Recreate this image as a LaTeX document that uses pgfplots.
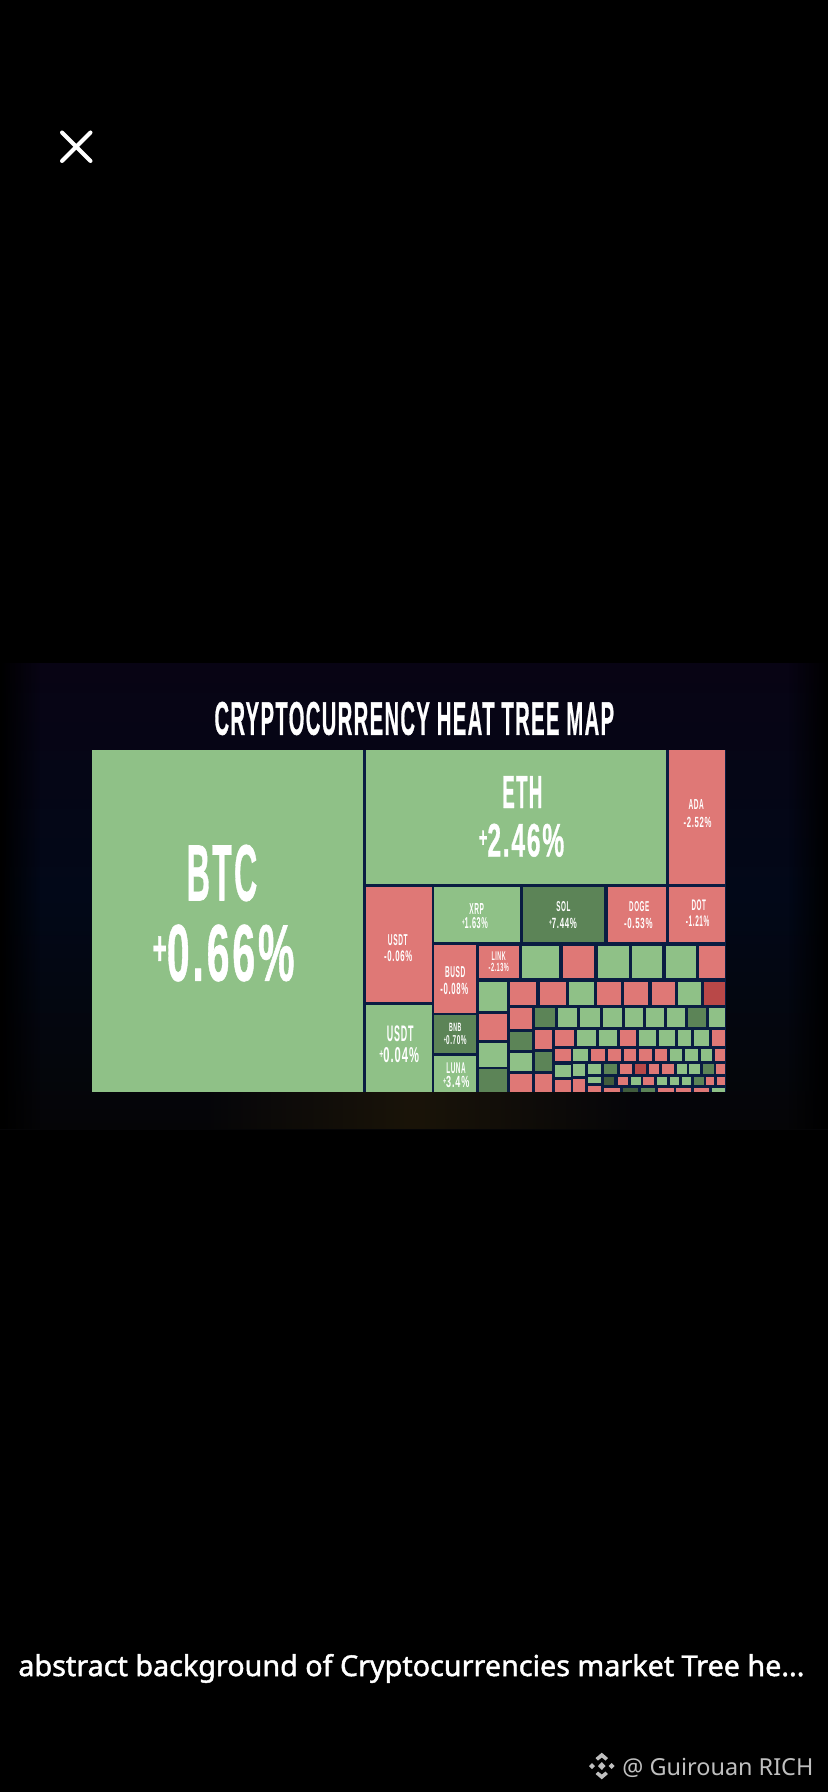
\documentclass[border=0pt]{standalone}
\usepackage{fontspec}
\usepackage{graphicx}
\usepackage{pgfplots}
\pgfplotsset{compat=1.18}
\usetikzlibrary{fadings}
\setmainfont{Liberation Sans}
\newfontfamily\condfont[FakeBold=1,LetterSpace=7]{Liberation Sans Bold}
\newfontfamily\smfont[LetterSpace=9]{Liberation Sans Bold}
\newfontfamily\capfont[FakeBold=1.6]{Noto Sans}
\newfontfamily\markfont{Noto Sans}
\definecolor{gr}{HTML}{8FC187}
\definecolor{rd}{HTML}{DF7876}
\definecolor{dg}{HTML}{5C8457}
\definecolor{dr}{HTML}{B94848}
\definecolor{nv}{HTML}{0A1D42}
\definecolor{ptop}{HTML}{080414}
\definecolor{pmid}{HTML}{020818}
\definecolor{pbot}{HTML}{050507}
\definecolor{warm}{HTML}{1A1409}
\newlength{\pxu}\setlength{\pxu}{0.5pt}
\newcommand\pl{\raisebox{.2em}{\scalebox{.6}{+}}}
% tile: colour, x0, x1, y0, y1 (picture pixels)
\newcommand\tile[5]{\addplot[fill=#1,draw=none,forget plot] coordinates {(#2,#4)(#3,#4)(#3,#5)(#2,#5)} --cycle;}
% label: centre x, centre y, width, height, text
\newcommand\lbl[5]{\node[inner sep=0pt,text=white] at (axis cs:#1,#2) {\resizebox{#3\pxu}{#4\pxu}{\condfont #5}};}
\newcommand\sml[5]{\node[inner sep=0pt,text=white] at (axis cs:#1,#2) {\resizebox{#3\pxu}{#4\pxu}{\smfont #5}};}
\begin{document}
\begin{tikzpicture}
\begin{axis}[scale only axis,width=414pt,height=896pt,xmin=0,xmax=828,ymin=0,ymax=1792,y dir=reverse,hide axis,clip=false]
% page and panel
\tile{black}{0}{828}{0}{1792}
\path[top color=ptop,bottom color=pbot,middle color=pmid] (axis cs:0,663) rectangle (axis cs:828,1129);
\fill[warm,path fading=west] (axis cs:200,1092) rectangle (axis cs:414,1129);
\fill[warm,path fading=east] (axis cs:414,1092) rectangle (axis cs:640,1129);
\fill[black,path fading=east] (axis cs:0,663) rectangle (axis cs:40,1129);
\fill[black,path fading=west] (axis cs:788,663) rectangle (axis cs:828,1129);
% close icon
\draw[white,line width=2pt,line cap=round] (axis cs:62,132.5) -- (axis cs:90.5,161);
\draw[white,line width=2pt,line cap=round] (axis cs:90.5,132.5) -- (axis cs:62,161);
% title
\lbl{414.3}{718.5}{399.5}{33}{CRYPTOCURRENCY HEAT TREE MAP}
% map ground
\tile{nv}{363}{725.5}{750}{1091.7}
% large tiles
\tile{gr}{91.7}{363.3}{750}{1091.5}
\tile{gr}{366}{666}{750}{884}
\tile{rd}{669}{725.3}{750}{884}
\tile{rd}{366}{431.7}{887.3}{1001.7}
\tile{gr}{366}{431.7}{1004.7}{1091.5}
\tile{gr}{434}{520}{887.3}{942.3}
\tile{dg}{523.3}{604.3}{887.3}{942.3}
\tile{rd}{607.7}{666}{887.3}{942.3}
\tile{rd}{669}{725.3}{887.3}{942.3}
\tile{rd}{434}{476}{945.3}{1012.7}
\tile{dg}{434}{476}{1015.3}{1053.3}
\tile{gr}{434}{476}{1056}{1091.5}
% row 1
\tile{rd}{479.3}{519}{945.7}{978.3}
\tile{gr}{522}{559.3}{945.7}{978.3}
\tile{rd}{562.7}{594.3}{945.7}{978.3}
\tile{gr}{598}{628.7}{945.7}{978.3}
\tile{gr}{632}{662.3}{945.7}{978.3}
\tile{gr}{665.7}{695.7}{945.7}{978.3}
\tile{rd}{699}{725.3}{945.7}{978.3}
% narrow column
\tile{gr}{479.3}{506.7}{981.7}{1011.3}
\tile{rd}{479.3}{506.7}{1014.3}{1040}
\tile{gr}{479.3}{506.7}{1043.3}{1066.7}
\tile{dg}{479.3}{506.7}{1069.3}{1091.5}
% row 2
\tile{rd}{510}{536.3}{981.7}{1004.7}
\tile{rd}{539.7}{566}{981.7}{1004.7}
\tile{gr}{569.3}{593.7}{981.7}{1004.7}
\tile{rd}{596.7}{621}{981.7}{1004.7}
\tile{rd}{624}{648.3}{981.7}{1004.7}
\tile{rd}{651.7}{674.7}{981.7}{1004.7}
\tile{gr}{678}{701}{981.7}{1004.7}
\tile{dr}{704.3}{725.3}{981.7}{1004.7}
% row 3
\tile{rd}{510}{532.3}{1008}{1029}
\tile{dg}{535}{555.3}{1008}{1026.7}
\tile{gr}{558.3}{577.3}{1008}{1026.7}
\tile{gr}{580.3}{600}{1008}{1026.7}
\tile{gr}{603.3}{622}{1008}{1026.7}
\tile{gr}{625}{643}{1008}{1026.7}
\tile{gr}{646}{664}{1008}{1026.7}
\tile{gr}{666.7}{684.7}{1008}{1026.7}
\tile{dg}{688}{705.7}{1008}{1026.7}
\tile{gr}{708.7}{725.3}{1008}{1026.7}
% two short columns
\tile{dg}{510}{532.3}{1032}{1050}
\tile{gr}{510}{532.3}{1053}{1070.7}
\tile{rd}{510}{532.3}{1073.7}{1091.5}
\tile{rd}{535}{552}{1030}{1048.7}
\tile{dg}{535}{552}{1051.7}{1070.7}
\tile{rd}{535}{552}{1073.7}{1091.5}
% row 4
\tile{rd}{555}{574}{1030}{1045.7}
\tile{gr}{576.7}{596}{1030}{1045.7}
\tile{gr}{599}{616.7}{1030}{1045.7}
\tile{rd}{619.7}{636.3}{1030}{1045.7}
\tile{gr}{639.3}{656}{1030}{1045.7}
\tile{gr}{659.3}{675}{1030}{1045.7}
\tile{gr}{677.7}{691.3}{1030}{1045.7}
\tile{gr}{694}{709}{1030}{1045.7}
\tile{rd}{711.7}{725.3}{1030}{1045.7}
% row 5
\tile{rd}{555}{570.7}{1048.7}{1061.3}
\tile{gr}{573.3}{588.3}{1048.7}{1061.3}
\tile{rd}{591}{604.7}{1048.7}{1061.3}
\tile{rd}{607.7}{621.3}{1048.7}{1061.3}
\tile{rd}{624}{636.3}{1048.7}{1061.3}
\tile{rd}{639.3}{651.7}{1048.7}{1061.3}
\tile{rd}{654.7}{667.3}{1048.7}{1061.3}
\tile{gr}{670}{682.3}{1048.7}{1061.3}
\tile{gr}{685.3}{698}{1048.7}{1061.3}
\tile{gr}{700.7}{712.3}{1048.7}{1061.3}
\tile{rd}{715}{725.3}{1048.7}{1061.3}
% row 6
\tile{gr}{555}{570.7}{1065}{1077.3}
\tile{gr}{573.3}{585}{1064.3}{1076.3}
\tile{gr}{587.7}{601.3}{1064.3}{1074.3}
\tile{dg}{604.3}{616.7}{1064.3}{1074.3}
\tile{rd}{619.7}{632.3}{1064.3}{1074.3}
\tile{dr}{635}{646.3}{1064.3}{1074.3}
\tile{rd}{649.3}{659.3}{1064.3}{1074.3}
\tile{rd}{662.3}{673.7}{1064.3}{1074.3}
\tile{gr}{676.7}{686.7}{1064.3}{1074.3}
\tile{gr}{689.3}{700}{1064.3}{1074.3}
\tile{dg}{702.7}{713.7}{1064.3}{1074.3}
\tile{rd}{716.3}{725.3}{1064.3}{1074.3}
\tile{rd}{555}{570.7}{1080.3}{1091.5}
\tile{rd}{573.3}{585}{1079.3}{1091.5}
% row 7
\tile{gr}{587.7}{601.3}{1077}{1083}
\tile{dg!70!black}{604.3}{614.3}{1077}{1085.3}
\tile{rd}{617.7}{627.7}{1077}{1085.3}
\tile{gr}{630.7}{640.7}{1077}{1085.3}
\tile{rd}{643.3}{654}{1077}{1085.3}
\tile{gr}{657}{667}{1077}{1085.3}
\tile{gr}{670}{679.3}{1077}{1085.3}
\tile{gr}{682}{691.3}{1077}{1085.3}
\tile{dg}{694}{703.7}{1077}{1085.3}
\tile{rd}{706.3}{714.3}{1077}{1085.3}
\tile{rd}{717}{725.3}{1077}{1085.3}
% row 8
\tile{rd}{587.7}{601.3}{1086}{1091.5}
\tile{rd}{604.3}{620}{1088.3}{1091.5}
\tile{dg!70!black}{623}{637.7}{1088.3}{1091.5}
\tile{dg}{640.7}{655.3}{1088.3}{1091.5}
\tile{rd}{658}{673.7}{1088.3}{1091.5}
\tile{rd}{676.3}{691.3}{1088.3}{1091.5}
\tile{rd}{694}{709}{1088.3}{1091.5}
\tile{gr}{711.7}{725.3}{1088.3}{1091.5}
% labels
\lbl{222}{873}{70.5}{55.7}{BTC}
\lbl{223.5}{953}{142}{56}{\pl0.66\%}
\lbl{522.3}{792}{40}{32}{ETH}
\lbl{521.5}{840.3}{85.5}{32.7}{\pl2.46\%}
\sml{696.2}{804}{15.4}{10}{ADA}
\sml{697.5}{822.5}{28}{10.3}{-2.52\%}
\sml{397.8}{939.8}{19.7}{11}{USDT}
\sml{398.2}{956.3}{28.3}{10.7}{-0.06\%}
\sml{476.7}{908.8}{14.7}{11}{XRP}
\sml{475}{923.2}{26}{11}{\pl1.63\%}
\sml{455.2}{972.2}{20.3}{11}{BUSD}
\sml{454.3}{989.3}{28}{11.3}{-0.08\%}
\sml{498.7}{955.7}{14}{8.7}{LINK}
\sml{498.8}{967.5}{20.3}{8.3}{-2.13\%}
\sml{455.2}{1027.5}{12.3}{8.3}{BNB}
\sml{455.3}{1040.5}{22.7}{9}{\pl0.70\%}
\sml{456}{1068}{19.4}{10.7}{LUNA}
\sml{456.2}{1082.3}{26.3}{11.3}{\pl3.4\%}
\sml{400.3}{1033.8}{26.7}{15.7}{USDT}
\sml{399.2}{1055.2}{39.7}{15}{\pl0.04\%}
\sml{563.5}{906.7}{14.1}{10}{SOL}
\sml{563}{923.8}{27.8}{10.3}{\pl7.44\%}
\sml{639.2}{906.7}{20}{10}{DOGE}
\sml{638.3}{923.8}{28.6}{10.3}{-0.53\%}
\sml{698.8}{905.3}{14.5}{10.7}{DOT}
\sml{697.7}{921.3}{23.5}{10.7}{-1.21\%}
% caption
\node[anchor=base west,inner sep=0pt,text=white] at (axis cs:18,1676) {\resizebox{786\pxu}{!}{\capfont abstract background of Cryptocurrencies market Tree he...}};
% watermark
\fill[black!25] (axis cs:601.8,1752.7) -- (axis cs:608,1758) -- (axis cs:605.5,1760.5) -- (axis cs:601.8,1757.5) -- (axis cs:598,1760.5) -- (axis cs:595.5,1758) -- cycle;
\fill[black!25] (axis cs:601.8,1762) -- (axis cs:605.5,1766) -- (axis cs:601.8,1770) -- (axis cs:598,1766) -- cycle;
\fill[black!25] (axis cs:592,1763) -- (axis cs:595,1766) -- (axis cs:592,1769) -- (axis cs:589,1766) -- cycle;
\fill[black!25] (axis cs:611.6,1763) -- (axis cs:614.6,1766) -- (axis cs:611.6,1769) -- (axis cs:608.6,1766) -- cycle;
\fill[black!25] (axis cs:601.8,1779.3) -- (axis cs:595.5,1774) -- (axis cs:598,1771.5) -- (axis cs:601.8,1774.5) -- (axis cs:605.5,1771.5) -- (axis cs:608,1774) -- cycle;
\node[anchor=base west,inner sep=0pt,text=black!25] at (axis cs:622,1775) {\resizebox{191\pxu}{!}{\markfont @ Guirouan RICH}};
\end{axis}
\end{tikzpicture}
\end{document}
